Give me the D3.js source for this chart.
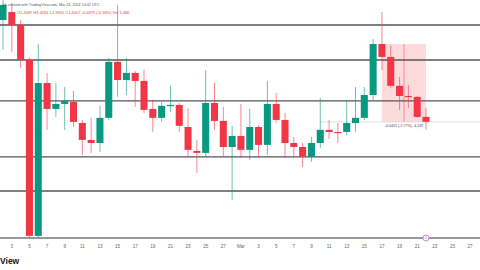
<!DOCTYPE html>
<html>
<head>
<meta charset="utf-8">
<script src="https://cdn.jsdelivr.net/npm/d3@7"></script>
<style>
  body { margin: 0; background: #fff; }
  svg { display: block; font-family: "Liberation Sans", Arial, sans-serif; }
</style>
</head>
<body>
<div id="chart"></div>
<script>
// daily candles
const open  = [1.5145,1.5187,1.5119,1.4935,1.4011,1.4814,1.4678,1.4704,1.4715,1.4604,
               1.4515,1.4499,1.4631,1.4925,1.4830,1.4867,1.4825,1.4678,1.4631,1.4694,
               1.4699,1.4583,1.4457,1.4447,1.4709,1.4615,1.4478,1.4536,1.4463,1.4583,
               1.4489,1.4704,1.4620,1.4499,1.4478,1.4426,1.4499,1.4568,1.4557,1.4557,
               1.4604,1.4631,1.4751,1.5019,1.4951,1.4799,1.4746,1.4741,1.4636]
const high  = [1.5250,1.5234,1.5145,1.4946,1.5019,1.4867,1.4814,1.4793,1.4772,1.4620,
               1.4631,1.4694,1.4946,1.5224,1.4946,1.4877,1.4883,1.4725,1.4715,1.4799,
               1.4709,1.4683,1.4515,1.4883,1.4814,1.4688,1.4589,1.4704,1.4678,1.4594,
               1.4825,1.4762,1.4657,1.4531,1.4499,1.4531,1.4736,1.4620,1.4604,1.4725,
               1.4793,1.4793,1.5045,1.5187,1.5009,1.4846,1.4804,1.4746,1.4683]
const low   = [1.4988,1.4977,1.4893,1.3990,1.3990,1.4568,1.4636,1.4568,1.4583,1.4436,
               1.4447,1.4452,1.4620,1.4741,1.4751,1.4688,1.4657,1.4557,1.4610,1.4662,
               1.4557,1.4426,1.4342,1.4426,1.4568,1.4426,1.4200,1.4421,1.4410,1.4421,
               1.4436,1.4604,1.4421,1.4421,1.4373,1.4400,1.4473,1.4520,1.4499,1.4541,
               1.4557,1.4620,1.4725,1.4883,1.4788,1.4673,1.4683,1.4631,1.4568]
const close = [1.5224,1.5119,1.4935,1.4011,1.4814,1.4678,1.4704,1.4720,1.4610,1.4515,
               1.4499,1.4631,1.4925,1.4830,1.4867,1.4825,1.4673,1.4631,1.4694,1.4699,
               1.4589,1.4463,1.4447,1.4709,1.4615,1.4478,1.4536,1.4463,1.4583,1.4489,
               1.4704,1.4620,1.4499,1.4478,1.4426,1.4499,1.4568,1.4557,1.4552,1.4604,
               1.4631,1.4751,1.5019,1.4951,1.4799,1.4746,1.4741,1.4636,1.4610]

// drawn horizontal levels
const levels = [1.5119, 1.4935, 1.4720, 1.4426, 1.4247]

// x axis labels, every second day
const tickIndex = d3.range(1, 54, 2)
const tickLabels = ["3","5","7","9","11","13","15","17","19","21","23","25","27",
                    "Mar","3","5","7","9","11","13","15","17","19","21","23","25","27"]

// measured range (from candle 44 to last candle)
const measureFrom = 43, measureTo = 48

const width = 480
const height = 270
const plotBottom = 238

const svg = d3.select("#chart")
  .append("svg")
  .attr("width", width)
  .attr("height", height)

const x = d3.scaleLinear()
  .domain([0, 48])
  .range([3, 426])

const y = d3.scaleLinear()
  .domain([1.40, 1.525])
  .range([plotBottom, 0])

const step = x(1) - x(0)
const bodyW = step * 0.8
const green = "#089981", red = "#F23645"

const data = open.map((o, i) => ({i, o, h: high[i], l: low[i], c: close[i]}))

svg.append("clipPath").attr("id", "plot")
  .append("rect").attr("x", 0).attr("y", 0).attr("width", width).attr("height", plotBottom)

const plot = svg.append("g").attr("clip-path", "url(#plot)")

// measure box
plot.append("rect")
  .attr("x", x(measureFrom))
  .attr("y", y(open[measureFrom]))
  .attr("width", x(measureTo) - x(measureFrom))
  .attr("height", y(close[measureTo]) - y(open[measureFrom]))
  .attr("fill", "#F23645")
  .attr("fill-opacity", 0.18)
plot.append("line")
  .attr("x1", (x(measureFrom) + x(measureTo)) / 2)
  .attr("x2", (x(measureFrom) + x(measureTo)) / 2)
  .attr("y1", y(open[measureFrom]))
  .attr("y2", y(close[measureTo]))
  .attr("stroke", "#F23645")
  .attr("stroke-opacity", 0.6)
  .attr("stroke-width", 0.8)

// last price line
plot.append("line")
  .attr("x1", 320).attr("x2", width)
  .attr("y1", y(close[48])).attr("y2", y(close[48]))
  .attr("stroke", "#d8d8d8")
  .attr("stroke-width", 0.8)

// level lines
plot.selectAll("line.level")
  .data(levels)
  .join("line")
  .attr("class", "level")
  .attr("x1", 0).attr("x2", width)
  .attr("y1", d => y(d)).attr("y2", d => y(d))
  .attr("stroke", "#555")
  .attr("stroke-width", 1.4)

// wicks
plot.selectAll("line.wick")
  .data(data)
  .join("line")
  .attr("class", "wick")
  .attr("x1", d => x(d.i)).attr("x2", d => x(d.i))
  .attr("y1", d => y(d.h)).attr("y2", d => y(d.l))
  .attr("stroke", d => d.c >= d.o ? green : red)
  .attr("stroke-opacity", 0.6)
  .attr("stroke-width", 1)

// bodies
plot.selectAll("rect.body")
  .data(data)
  .join("rect")
  .attr("class", "body")
  .attr("x", d => x(d.i) - bodyW / 2)
  .attr("y", d => y(Math.max(d.o, d.c)))
  .attr("width", bodyW)
  .attr("height", d => Math.max(1.2, Math.abs(y(d.o) - y(d.c))))
  .attr("fill", d => d.c >= d.o ? green : red)

// measure label
svg.append("text")
  .attr("x", (x(measureFrom) + x(measureTo)) / 2)
  .attr("y", y(close[measureTo]) + 5)
  .attr("text-anchor", "middle")
  .style("font-size", "3.6px")
  .style("fill", "#444")
  .text("-0.0415 (-2.77%) -4,149")

// header
svg.append("text")
  .attr("x", 1).attr("y", 6)
  .style("font-size", "3.7px")
  .style("fill", "#555")
  .text("_hk created with TradingView.com, Mar 23, 2024 14:42 UTC")
svg.append("text")
  .attr("x", 17).attr("y", 13.5)
  .style("font-size", "4px")
  .style("fill", "#F23645")
  .text("O1.4087 H1.4261 L1.3955 C1.4007 -0.0079 (-0.56%) Vol 1.46K")

// x axis
svg.append("line")
  .attr("x1", 0).attr("x2", width)
  .attr("y1", plotBottom).attr("y2", plotBottom)
  .attr("stroke", "#777")
  .attr("stroke-width", 1.6)

svg.selectAll("text.tick")
  .data(tickIndex)
  .join("text")
  .attr("class", "tick")
  .attr("x", d => x(d))
  .attr("y", 248)
  .attr("text-anchor", "middle")
  .style("font-size", "4.6px")
  .style("fill", "#666")
  .text((d, k) => tickLabels[k])

// date marker on the axis
svg.append("circle")
  .attr("cx", x(48)).attr("cy", plotBottom).attr("r", 3)
  .attr("fill", "#fff")
  .attr("stroke", "#c36ac9")
  .attr("stroke-width", 0.8)
svg.append("text")
  .attr("x", x(48)).attr("y", plotBottom + 1.3)
  .attr("text-anchor", "middle")
  .style("font-size", "3.4px")
  .style("fill", "#c36ac9")
  .text("D")

// logo fragment
svg.append("text")
  .attr("x", 0).attr("y", 264)
  .style("font-size", "8.5px")
  .style("font-weight", "bold")
  .style("fill", "#131722")
  .text("View")
</script>
</body>
</html>
